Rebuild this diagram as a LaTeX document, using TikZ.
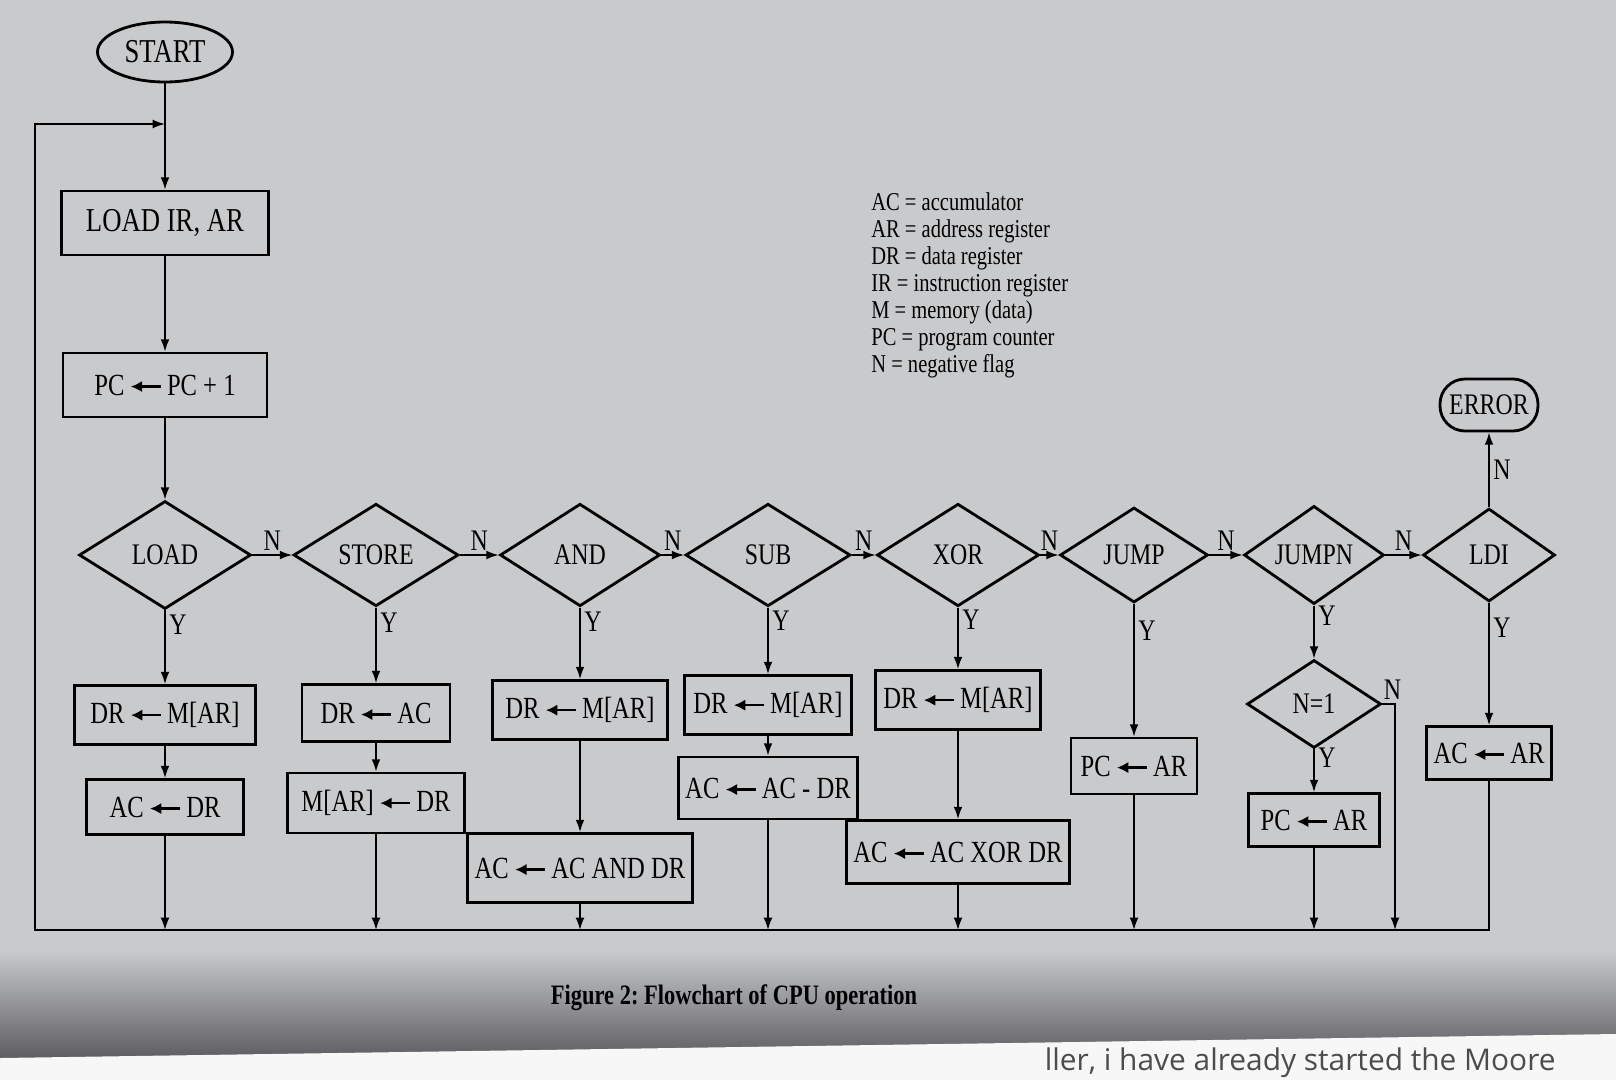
\documentclass[tikz,border=0pt]{standalone}
\usepackage{fontspec}
\setmainfont{Liberation Serif}[FakeStretch=0.8]
\newfontfamily\uifont{Open Sans}
\usetikzlibrary{shapes.geometric,arrows.meta}
\definecolor{screen}{RGB}{201,202,204}
\definecolor{shadow}{RGB}{92,92,96}
\newcommand{\la}{\,\tikz[baseline=-0.6ex]\draw[line width=1.3pt,-{Latex[length=6.5pt,width=6.5pt]}] (0.6cm,0)--(0,0);\,}

\begin{document}
\begin{tikzpicture}[x=0.02cm,y=-0.02cm,
    box/.style={draw,line width=1.6pt,inner xsep=4pt,inner ysep=0pt,font=\fontsize{17.5}{20}\selectfont},
    dec/.style={diamond,draw,line width=1.6pt,inner sep=0pt,minimum height=2.05cm,font=\fontsize{17}{19}\selectfont},
    arr/.style={line width=0.9pt,-{Latex[length=7pt,width=5pt]}},
    lbl/.style={font=\fontsize{17}{19}\selectfont,inner sep=2pt}]
    % screen photo background
    \useasboundingbox (0,0) rectangle (1616,1080);
    \fill[screen] (0,0) rectangle (1616,1080);
    \shade[top color=screen,bottom color=shadow] (0,950) rectangle (1616,1060);
    \fill[white!94!gray] (0,1058) -- (1616,1034) -- (1616,1080) -- (0,1080) -- cycle;

    \node[ellipse,draw,line width=1.6pt,minimum width=2.7cm,minimum height=1.2cm,font=\fontsize{19}{21}\selectfont] (start) at (165,52) {START};
    \coordinate (jn) at (165,124);
    \node[box,minimum width=4.14cm,minimum height=1.28cm,font=\fontsize{19}{21}\selectfont] (ldir) at (165,223) {LOAD IR, AR};
    \node[box,minimum width=4.08cm,minimum height=1.28cm] (inc) at (165,385) {PC\la PC + 1};

    \node[align=left,anchor=north west,inner sep=0pt,font=\fontsize{14.6}{15.4}\selectfont] (legend) at (871,192)
        {AC = accumulator\\AR = address register\\DR = data register\\IR = instruction register\\M = memory (data)\\PC = program counter\\N = negative flag};

    % decisions
    \node[dec,minimum width=3.44cm,minimum height=2.16cm] (opload) at (165,555) {LOAD};
    \node[dec,minimum width=3.3cm] (opstore) at (376,555) {STORE};
    \node[dec,minimum width=3.2cm] (opand) at (580,555) {AND};
    \node[dec,minimum width=3.3cm] (opsub) at (768,555) {SUB};
    \node[dec,minimum width=3.24cm] (opxor) at (958,555) {XOR};
    \node[dec,minimum width=2.96cm,minimum height=1.9cm] (opjump) at (1134,555) {JUMP};
    \node[dec,minimum width=2.8cm,minimum height=1.86cm] (opjumpn) at (1314,555) {JUMPN};
    \node[dec,minimum width=2.64cm,minimum height=1.86cm] (opldi) at (1489,555) {LDI};
    \node[draw,rounded corners=0.5cm,line width=1.6pt,minimum width=1.96cm,minimum height=1.04cm,font=\fontsize{17}{19}\selectfont] (err) at (1489,405) {ERROR};

    % actions
    \node[box,minimum width=3.62cm,minimum height=1.18cm] (ld1) at (165,715) {DR\la M[AR]};
    \node[box,minimum width=3.14cm,minimum height=1.1cm] (ld2) at (165,807) {AC\la DR};
    \node[box,minimum width=2.96cm,minimum height=1.14cm] (st1) at (376,713) {DR\la AC};
    \node[box,minimum width=3.54cm,minimum height=1.2cm] (st2) at (376,803) {M[AR]\la DR};
    \node[box,minimum width=3.5cm,minimum height=1.18cm] (an1) at (580,710) {DR\la M[AR]};
    \node[box,minimum width=4.42cm,minimum height=1.38cm] (an2) at (580,868) {AC\la AC AND DR};
    \node[box,minimum width=3.34cm,minimum height=1.18cm] (sb1) at (768,705) {DR\la M[AR]};
    \node[box,minimum width=3.04cm,minimum height=1.24cm] (sb2) at (768,788) {AC\la AC - DR};
    \node[box,minimum width=3.3cm,minimum height=1.18cm] (xr1) at (958,700) {DR\la M[AR]};
    \node[box,minimum width=4.16cm,minimum height=1.26cm] (xr2) at (958,852) {AC\la AC XOR DR};
    \node[box,minimum width=2.52cm,minimum height=1.12cm] (jp1) at (1134,766) {PC\la AR};
    \node[dec,minimum width=2.68cm,minimum height=1.76cm] (nz) at (1314,704) {N=1};
    \node[box,minimum width=2.62cm,minimum height=1.06cm] (jpn1) at (1314,820) {PC\la AR};
    \node[box,minimum width=2.42cm,minimum height=1.06cm] (ldi1) at (1489,753) {AC\la AR};

    \coordinate (bl) at (35,930);
    \coordinate (nzo) at (1395,930);

    \node[font=\bfseries\fontsize{16}{18}\selectfont] (cap) at (734,998) {Figure 2:\ Flowchart of CPU operation};
    \node[anchor=base east,inner sep=0pt,text=black!70,font=\uifont\fontsize{17}{19}\selectfont] (moore) at (1556,1070) {ller, i have already started the Moore};

    % connectors
    \draw[arr] (start) -- (ldir);
    \draw[arr] (ldir) -- (inc);
    \draw[arr] (inc) -- (opload);
    \foreach \a/\b in {opload/opstore,opstore/opand,opand/opsub,opsub/opxor,opxor/opjump,opjump/opjumpn,opjumpn/opldi}
        \draw[arr] (\a.east) -- (\b.west) node[lbl,midway,above] {N};
    \draw[arr] (opldi) -- (err) node[lbl,midway,right] {N};
    \foreach \a/\b in {opload/ld1,opstore/st1,opand/an1,opsub/sb1,opxor/xr1,opjump/jp1,opjumpn/nz,nz/jpn1,opldi/ldi1}
        \draw[arr] (\a.south) -- (\b.north) node[lbl,pos=0.2,right] {Y};
    \foreach \a/\b in {ld1/ld2,st1/st2,an1/an2,sb1/sb2,xr1/xr2}
        \draw[arr] (\a) -- (\b);
    \foreach \b in {ld2,st2,an2,sb2,xr2,jp1,jpn1}
        \draw[arr] (\b.south) -- (\b.south |- bl);
    \draw[arr] (nz.east) -| (nzo) node[lbl,pos=0.4,above] {N};
    \draw[arr] (ldi1.south) |- (bl) |- (jn);
\end{tikzpicture}
\end{document}
